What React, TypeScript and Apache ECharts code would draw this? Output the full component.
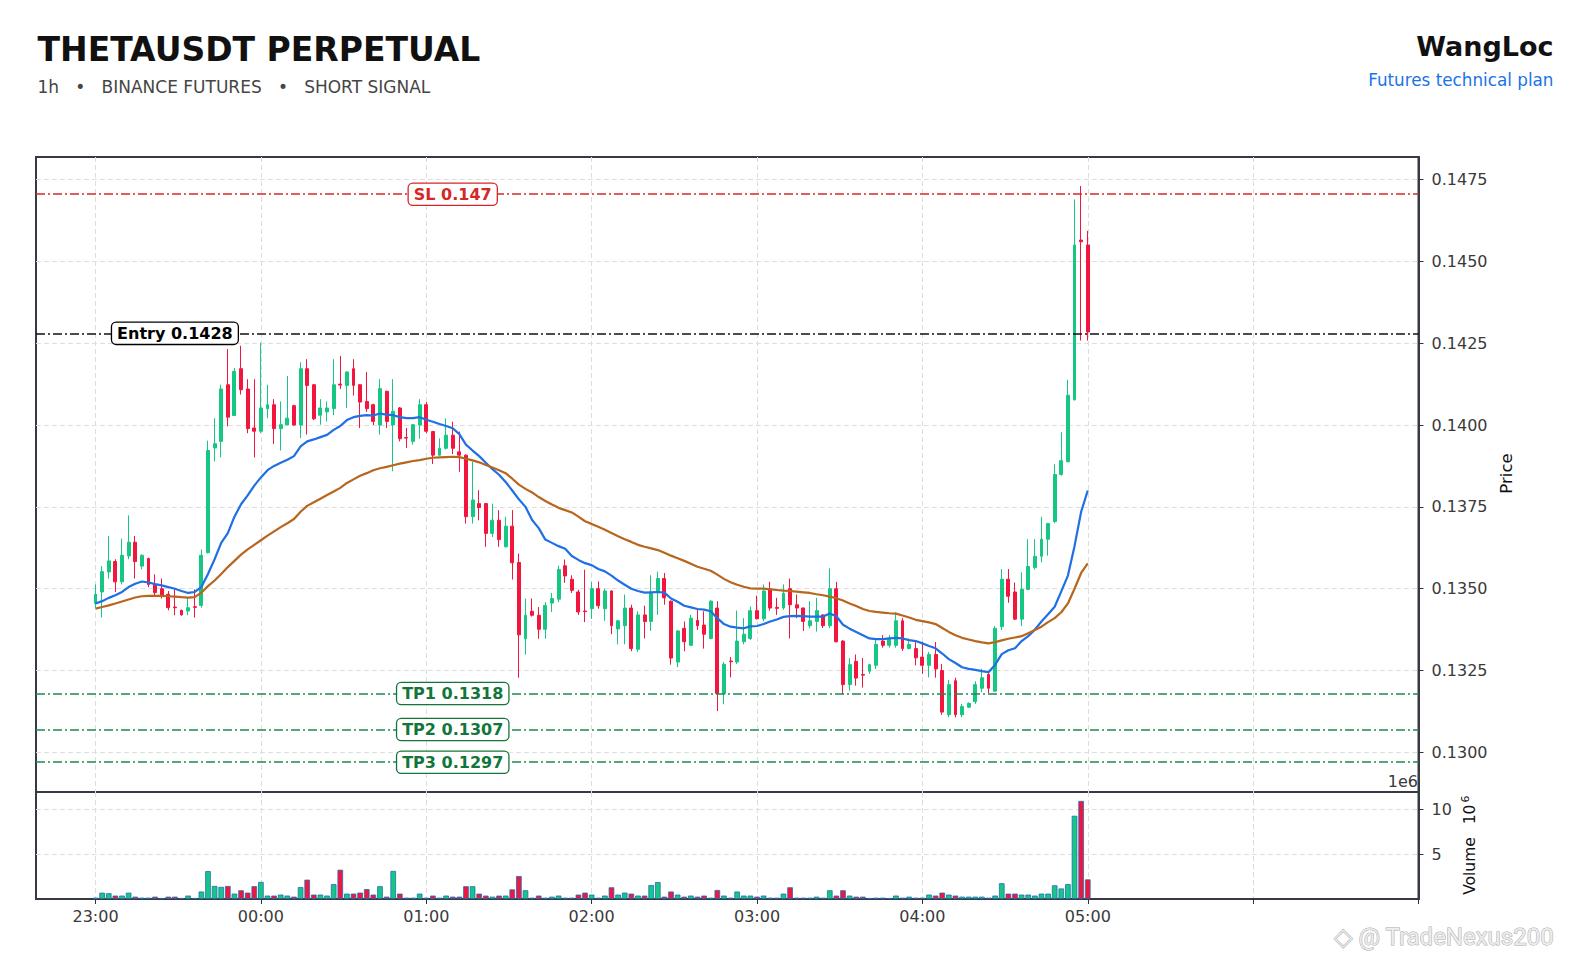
import React, { useEffect, useRef } from 'react';
import * as echarts from 'echarts';

// ---------- DATA ----------
const timeLabels = ['23:00', '00:00', '01:00', '02:00', '03:00', '04:00', '05:00'];
const CANDLES_PER_HOUR = 25;

const opens = [
  0.13455, 0.13490, 0.13551, 0.13583, 0.13521, 0.13600, 0.13642, 0.13569, 0.13592, 0.13513,
  0.13500, 0.13483, 0.13444, 0.13434, 0.13432, 0.13445, 0.13449, 0.13610, 0.13930, 0.13950,
  0.14123, 0.14029, 0.14172, 0.14110, 0.13991, 0.13981, 0.14050, 0.14062, 0.13989, 0.14001,
  0.14059, 0.14000, 0.14172, 0.14123, 0.14030, 0.14040, 0.14050, 0.14125, 0.14121, 0.14172,
  0.14123, 0.14072, 0.14062, 0.14000, 0.14103, 0.14000, 0.14052, 0.13962, 0.13950, 0.14000,
  0.14062, 0.13980, 0.13908, 0.13929, 0.13969, 0.13918, 0.13908, 0.13720, 0.13760, 0.13760,
  0.13669, 0.13709, 0.13628, 0.13691, 0.13580, 0.13347, 0.13431, 0.13419, 0.13376, 0.13456,
  0.13468, 0.13570, 0.13529, 0.13490, 0.13432, 0.13439, 0.13500, 0.13439, 0.13493, 0.13377,
  0.13387, 0.13441, 0.13315, 0.13420, 0.13400, 0.13488, 0.13531, 0.13462, 0.13276, 0.13379,
  0.13327, 0.13403, 0.13389, 0.13348, 0.13441, 0.13180, 0.13279, 0.13276, 0.13338, 0.13348,
  0.13433, 0.13408, 0.13500, 0.13443, 0.13441, 0.13500, 0.13451, 0.13441, 0.13387, 0.13400,
  0.13420, 0.13387, 0.13500, 0.13340, 0.13207, 0.13278, 0.13238, 0.13248, 0.13266, 0.13340,
  0.13327, 0.13327, 0.13402, 0.13317, 0.13317, 0.13291, 0.13266, 0.13299, 0.13250, 0.13115,
  0.13219, 0.13115, 0.13138, 0.13155, 0.13196, 0.13238, 0.13187, 0.13384, 0.13529, 0.13490,
  0.13407, 0.13498, 0.13565, 0.13599, 0.13651, 0.13705, 0.13849, 0.13888, 0.14077, 0.14565,
  0.14550,
];

const closes = [
  0.13483, 0.13552, 0.13585, 0.13521, 0.13602, 0.13642, 0.13583, 0.13602, 0.13513, 0.13488,
  0.13478, 0.13442, 0.13442, 0.13420, 0.13442, 0.13443, 0.13602, 0.13922, 0.13943, 0.14110,
  0.14024, 0.14164, 0.14108, 0.13989, 0.13981, 0.14052, 0.14062, 0.13989, 0.14001, 0.14021,
  0.14000, 0.14172, 0.14121, 0.14019, 0.14052, 0.14052, 0.14123, 0.14122, 0.14162, 0.14121,
  0.14070, 0.14050, 0.14011, 0.14111, 0.14011, 0.14042, 0.13958, 0.13960, 0.14001, 0.14062,
  0.13981, 0.13908, 0.13929, 0.13969, 0.13929, 0.13908, 0.13720, 0.13771, 0.13748, 0.13669,
  0.13709, 0.13650, 0.13691, 0.13579, 0.13359, 0.13419, 0.13419, 0.13376, 0.13449, 0.13470,
  0.13559, 0.13539, 0.13495, 0.13429, 0.13430, 0.13500, 0.13448, 0.13493, 0.13387, 0.13402,
  0.13441, 0.13317, 0.13420, 0.13400, 0.13488, 0.13531, 0.13472, 0.13288, 0.13371, 0.13338,
  0.13410, 0.13387, 0.13361, 0.13462, 0.13180, 0.13269, 0.13277, 0.13340, 0.13361, 0.13433,
  0.13408, 0.13493, 0.13441, 0.13440, 0.13486, 0.13451, 0.13441, 0.13400, 0.13402, 0.13433,
  0.13387, 0.13500, 0.13338, 0.13207, 0.13268, 0.13227, 0.13236, 0.13268, 0.13330, 0.13327,
  0.13346, 0.13402, 0.13317, 0.13330, 0.13289, 0.13266, 0.13299, 0.13255, 0.13123, 0.13207,
  0.13115, 0.13140, 0.13150, 0.13207, 0.13228, 0.13196, 0.13379, 0.13529, 0.13477, 0.13407,
  0.13498, 0.13568, 0.13599, 0.13651, 0.13699, 0.13849, 0.13891, 0.14091, 0.14550, 0.14560,
  0.14284,
];

const lows = [
  0.13442, 0.13412, 0.13531, 0.13490, 0.13513, 0.13590, 0.13531, 0.13559, 0.13505, 0.13478,
  0.13470, 0.13434, 0.13419, 0.13418, 0.13419, 0.13412, 0.13442, 0.13608, 0.13889, 0.13901,
  0.13996, 0.14029, 0.14093, 0.13975, 0.13901, 0.13975, 0.14021, 0.13942, 0.13922, 0.13999,
  0.13998, 0.13960, 0.13971, 0.14015, 0.14001, 0.14011, 0.14030, 0.14110, 0.14052, 0.14090,
  0.13991, 0.14040, 0.14000, 0.13971, 0.13991, 0.13859, 0.13950, 0.13930, 0.13940, 0.13958,
  0.13975, 0.13881, 0.13906, 0.13925, 0.13911, 0.13857, 0.13699, 0.13699, 0.13709, 0.13628,
  0.13658, 0.13628, 0.13626, 0.13528, 0.13228, 0.13299, 0.13415, 0.13347, 0.13347, 0.13429,
  0.13459, 0.13518, 0.13487, 0.13420, 0.13398, 0.13408, 0.13439, 0.13402, 0.13361, 0.13330,
  0.13330, 0.13309, 0.13307, 0.13348, 0.13371, 0.13420, 0.13451, 0.13268, 0.13260, 0.13309,
  0.13325, 0.13374, 0.13317, 0.13345, 0.13126, 0.13147, 0.13229, 0.13270, 0.13330, 0.13343,
  0.13406, 0.13400, 0.13433, 0.13420, 0.13436, 0.13348, 0.13410, 0.13371, 0.13379, 0.13369,
  0.13380, 0.13379, 0.13336, 0.13178, 0.13188, 0.13204, 0.13198, 0.13240, 0.13255, 0.13320,
  0.13320, 0.13320, 0.13310, 0.13315, 0.13266, 0.13240, 0.13229, 0.13228, 0.13115, 0.13107,
  0.13107, 0.13107, 0.13137, 0.13148, 0.13184, 0.13181, 0.13186, 0.13374, 0.13457, 0.13405,
  0.13386, 0.13496, 0.13558, 0.13581, 0.13601, 0.13700, 0.13845, 0.13886, 0.14075, 0.14258,
  0.14258,
];

const highs = [
  0.13513, 0.13569, 0.13661, 0.13590, 0.13653, 0.13724, 0.13661, 0.13605, 0.13595, 0.13544,
  0.13531, 0.13493, 0.13498, 0.13436, 0.13473, 0.13498, 0.13620, 0.13952, 0.14021, 0.14123,
  0.14232, 0.14174, 0.14242, 0.14140, 0.14140, 0.14252, 0.14123, 0.14079, 0.14072, 0.14150,
  0.14062, 0.14192, 0.14201, 0.14125, 0.14079, 0.14072, 0.14201, 0.14211, 0.14164, 0.14201,
  0.14125, 0.14162, 0.14065, 0.14140, 0.14105, 0.14140, 0.14055, 0.13991, 0.14003, 0.14079,
  0.14070, 0.13982, 0.13959, 0.14020, 0.14010, 0.13980, 0.13910, 0.13888, 0.13801, 0.13762,
  0.13760, 0.13740, 0.13720, 0.13740, 0.13607, 0.13470, 0.13470, 0.13444, 0.13459, 0.13487,
  0.13570, 0.13589, 0.13541, 0.13497, 0.13558, 0.13521, 0.13522, 0.13500, 0.13495, 0.13404,
  0.13482, 0.13451, 0.13431, 0.13448, 0.13541, 0.13552, 0.13548, 0.13464, 0.13373, 0.13400,
  0.13420, 0.13436, 0.13431, 0.13465, 0.13462, 0.13276, 0.13291, 0.13433, 0.13410, 0.13446,
  0.13479, 0.13513, 0.13521, 0.13472, 0.13513, 0.13531, 0.13482, 0.13443, 0.13462, 0.13472,
  0.13422, 0.13562, 0.13521, 0.13343, 0.13288, 0.13299, 0.13288, 0.13270, 0.13343, 0.13358,
  0.13358, 0.13428, 0.13410, 0.13348, 0.13338, 0.13338, 0.13307, 0.13337, 0.13270, 0.13221,
  0.13228, 0.13148, 0.13153, 0.13217, 0.13255, 0.13248, 0.13386, 0.13560, 0.13560, 0.13519,
  0.13550, 0.13651, 0.13651, 0.13720, 0.13701, 0.13880, 0.13978, 0.14138, 0.14689, 0.14730,
  0.14593,
];

// volume in millions (axis offset 1e6)
const volumeM = [
  0.15, 0.70, 0.64, 0.38, 0.38, 0.70, 0.26, 0.15, 0.15, 0.26,
  0.11, 0.26, 0.26, 0.11, 0.38, 0.11, 0.83, 3.10, 1.45, 1.35,
  1.45, 0.60, 0.97, 0.71, 1.42, 1.90, 0.38, 0.38, 0.49, 0.38,
  0.26, 1.32, 2.15, 0.49, 0.49, 0.38, 1.65, 3.25, 0.60, 0.60,
  0.71, 1.10, 0.49, 1.42, 0.26, 3.12, 0.60, 0.15, 0.15, 0.60,
  0.15, 0.38, 0.15, 0.38, 0.26, 0.26, 1.42, 1.42, 0.60, 0.38,
  0.26, 0.38, 0.38, 1.07, 2.55, 0.97, 0.15, 0.38, 0.15, 0.26,
  0.38, 0.15, 0.15, 0.49, 0.71, 0.49, 0.15, 0.38, 1.30, 0.49,
  0.71, 0.60, 0.38, 0.38, 1.55, 1.88, 0.26, 0.83, 0.49, 0.26,
  0.38, 0.26, 0.38, 0.15, 1.00, 0.38, 0.15, 0.83, 0.38, 0.38,
  0.26, 0.38, 0.15, 0.15, 0.60, 1.30, 0.15, 0.15, 0.15, 0.26,
  0.15, 0.97, 0.38, 0.97, 0.38, 0.26, 0.26, 0.11, 0.15, 0.15,
  0.11, 0.38, 0.15, 0.26, 0.15, 0.15, 0.49, 0.38, 0.71, 0.49,
  0.38, 0.26, 0.26, 0.26, 0.26, 0.15, 0.38, 1.75, 0.60, 0.60,
  0.49, 0.49, 0.38, 0.60, 0.60, 1.52, 1.17, 1.65, 9.25, 10.90,
  2.18,
];

// fast moving average (blue)
const maFast = [
  0.13455, 0.13462, 0.13472, 0.13480, 0.13490, 0.13505, 0.13515, 0.13522, 0.13519, 0.13514,
  0.13510, 0.13505, 0.13500, 0.13493, 0.13487, 0.13490, 0.13505, 0.13545, 0.13590, 0.13640,
  0.13670, 0.13720, 0.13758, 0.13785, 0.13815, 0.13840, 0.13862, 0.13875, 0.13885, 0.13894,
  0.13905, 0.13935, 0.13950, 0.13956, 0.13963, 0.13970, 0.13985, 0.13997, 0.14015, 0.14024,
  0.14028, 0.14030, 0.14029, 0.14035, 0.14032, 0.14030, 0.14024, 0.14021, 0.14021, 0.14024,
  0.14016, 0.14010, 0.14003, 0.13997, 0.13990, 0.13972, 0.13940, 0.13922, 0.13905, 0.13885,
  0.13865, 0.13848, 0.13826, 0.13800, 0.13773, 0.13750, 0.13710, 0.13685, 0.13650, 0.13640,
  0.13630, 0.13622, 0.13600, 0.13588, 0.13578, 0.13572, 0.13560, 0.13553, 0.13540, 0.13525,
  0.13512, 0.13500, 0.13493, 0.13488, 0.13489, 0.13490, 0.13488, 0.13470, 0.13460, 0.13448,
  0.13443, 0.13438, 0.13436, 0.13431, 0.13410, 0.13392, 0.13384, 0.13381, 0.13379, 0.13385,
  0.13386, 0.13392, 0.13400, 0.13406, 0.13414, 0.13416, 0.13417, 0.13416, 0.13415, 0.13415,
  0.13415, 0.13424, 0.13416, 0.13390, 0.13378, 0.13368, 0.13358, 0.13348, 0.13346, 0.13346,
  0.13348, 0.13350, 0.13348, 0.13343, 0.13340, 0.13333, 0.13325, 0.13318, 0.13302, 0.13285,
  0.13273, 0.13260, 0.13255, 0.13252, 0.13248, 0.13245, 0.13268, 0.13300, 0.13312, 0.13318,
  0.13340, 0.13355, 0.13375, 0.13400, 0.13422, 0.13445, 0.13492, 0.13540, 0.13630, 0.13735,
  0.13800,
];

// slow moving average (brown)
const maSlow = [
  0.13439, 0.13444, 0.13449, 0.13455, 0.13461, 0.13467, 0.13473, 0.13477, 0.13478, 0.13478,
  0.13478, 0.13477, 0.13476, 0.13474, 0.13473, 0.13474, 0.13488, 0.13508, 0.13525, 0.13545,
  0.13566, 0.13585, 0.13604, 0.13620, 0.13634, 0.13648, 0.13662, 0.13675, 0.13688, 0.13700,
  0.13713, 0.13735, 0.13753, 0.13764, 0.13775, 0.13786, 0.13797, 0.13808, 0.13823, 0.13834,
  0.13845, 0.13853, 0.13862, 0.13868, 0.13872, 0.13877, 0.13882, 0.13886, 0.13890, 0.13893,
  0.13897, 0.13900, 0.13901, 0.13902, 0.13903, 0.13902, 0.13897, 0.13892, 0.13886, 0.13878,
  0.13870, 0.13862, 0.13853, 0.13836, 0.13818, 0.13805, 0.13794, 0.13780, 0.13768, 0.13757,
  0.13747, 0.13740, 0.13733, 0.13720, 0.13706, 0.13698, 0.13689, 0.13680, 0.13670, 0.13660,
  0.13651, 0.13643, 0.13634, 0.13628, 0.13623, 0.13618, 0.13610, 0.13601, 0.13593, 0.13585,
  0.13576, 0.13567, 0.13561, 0.13555, 0.13543, 0.13530, 0.13520, 0.13512, 0.13506, 0.13501,
  0.13500, 0.13500, 0.13498, 0.13496, 0.13494, 0.13493, 0.13491, 0.13489, 0.13487, 0.13483,
  0.13480, 0.13476, 0.13471, 0.13464, 0.13455, 0.13447, 0.13438, 0.13432, 0.13429, 0.13427,
  0.13425, 0.13424, 0.13418, 0.13412, 0.13405, 0.13401, 0.13397, 0.13392, 0.13380, 0.13368,
  0.13358, 0.13350, 0.13345, 0.13340, 0.13336, 0.13333, 0.13337, 0.13342, 0.13347, 0.13351,
  0.13355, 0.13364, 0.13374, 0.13384, 0.13398, 0.13410, 0.13428, 0.13455, 0.13500, 0.13548,
  0.13577,
];

const priceTicks = [0.13, 0.1325, 0.135, 0.1375, 0.14, 0.1425, 0.145, 0.1475];
const volumeTicks = [5, 10];

const levelNames = ['SL', 'Entry', 'TP1', 'TP2', 'TP3'];
const levelValues = [0.14705, 0.1428, 0.1318, 0.1307, 0.1297];
const levelTexts = ['SL 0.147', 'Entry 0.1428', 'TP1 0.1318', 'TP2 0.1307', 'TP3 0.1297'];

// ---------- LAYOUT / STYLE ----------
const FONT = '"DejaVu Sans", "Liberation Sans", sans-serif';
const UP = '#16C784';
const DOWN = '#F2163E';
const FRAME = '#353a45';
const PAD_BEFORE = 9;
const PAD_AFTER = 50;
const LEVEL_LABEL_AT = [54, 12, 54, 54, 54];
const LEVEL_LINE_COLORS = ['#d62728', '#111111', '#1f8a4c', '#1f8a4c', '#1f8a4c'];
const LEVEL_TEXT_COLORS = ['#d62728', '#000000', '#12763a', '#12763a', '#12763a'];

function buildOption() {
  const N = closes.length;
  const total = PAD_BEFORE + N + PAD_AFTER;
  const cats = Array.from({ length: total }, (_, i) => 'c' + i);
  const toIdx = (i: number) => i - PAD_BEFORE;
  const isHour = (i: number) => {
    const c = toIdx(i);
    return c >= 0 && c % CANDLES_PER_HOUR === 0;
  };

  const candleData = cats.map((_, i) => {
    const k = toIdx(i);
    if (k < 0 || k >= N) return '-';
    return [opens[k], closes[k], lows[k], highs[k]];
  });
  const pad = (arr: number[]) =>
    cats.map((_, i) => {
      const k = toIdx(i);
      return k < 0 || k >= N ? '-' : arr[k];
    });
  const volData = cats.map((_, i) => {
    const k = toIdx(i);
    if (k < 0 || k >= N) return '-';
    return {
      value: volumeM[k],
      itemStyle: { color: closes[k] >= opens[k] ? UP : DOWN },
    };
  });

  const dashDot = [9, 3, 2, 3];
  const gridDash = [5, 3];

  const left = 36;
  const width = 1382.5;

  const labelStyle = { color: '#3a3a3a', fontSize: 16, fontFamily: FONT };

  return {
    animation: false,
    backgroundColor: '#ffffff',
    textStyle: { fontFamily: FONT },
    grid: [
      {
        left, top: 157, width, height: 635,
        show: true, borderColor: FRAME, borderWidth: 2, backgroundColor: 'transparent',
        outerBoundsMode: 'none',
      },
      {
        left, top: 792, width, height: 107,
        show: true, borderColor: FRAME, borderWidth: 2, backgroundColor: 'transparent',
        outerBoundsMode: 'none',
      },
    ],
    xAxis: [
      {
        type: 'category', gridIndex: 0, data: cats, boundaryGap: false,
        axisLine: { show: false }, axisTick: { show: false }, axisLabel: { show: false },
        splitLine: {
          show: true,
          interval: (i: number) => isHour(i) && toIdx(i) < 200,
          lineStyle: { color: '#dedede', type: gridDash, width: 1 },
        },
      },
      {
        type: 'category', gridIndex: 1, data: cats, boundaryGap: false,
        axisLine: { show: true, lineStyle: { color: FRAME, width: 2 } },
        axisTick: {
          show: true, interval: (i: number) => isHour(i), length: 5,
          lineStyle: { color: '#333', width: 1 },
        },
        axisLabel: {
          ...labelStyle,
          margin: 9,
          interval: (i: number) => isHour(i),
          formatter: (_v: string, i: number) => {
            const c = toIdx(i);
            const h = c / CANDLES_PER_HOUR;
            return timeLabels[h] !== undefined ? timeLabels[h] : '';
          },
        },
        splitLine: {
          show: true,
          interval: (i: number) => isHour(i) && toIdx(i) < 200,
          lineStyle: { color: '#dedede', type: gridDash, width: 1 },
        },
      },
    ],
    yAxis: [
      {
        type: 'value', gridIndex: 0, position: 'right', scale: true,
        min: 0.12879, max: 0.148187,
        axisLine: { show: true, lineStyle: { color: FRAME, width: 2 } },
        axisTick: { show: true, length: 5, customValues: priceTicks, lineStyle: { color: '#333' } },
        axisLabel: {
          ...labelStyle, margin: 13, customValues: priceTicks,
          formatter: (v: number) => v.toFixed(4),
        },
        splitLine: { show: true, lineStyle: { color: '#dedede', type: gridDash, width: 1 } },
      },
      {
        type: 'value', gridIndex: 1, position: 'right',
        min: 0, max: 11.89,
        axisLine: { show: true, lineStyle: { color: FRAME, width: 2 } },
        axisTick: { show: true, length: 5, customValues: volumeTicks, lineStyle: { color: '#333' } },
        axisLabel: {
          ...labelStyle, margin: 13, customValues: volumeTicks,
          formatter: (v: number) => String(v),
        },
        splitLine: { show: true, lineStyle: { color: '#dedede', type: gridDash, width: 1 } },
      },
    ],
    series: [
      {
        name: 'Candles',
        type: 'candlestick',
        xAxisIndex: 0, yAxisIndex: 0,
        data: candleData,
        barWidth: 3.4,
        itemStyle: {
          color: UP, color0: DOWN, borderColor: UP, borderColor0: DOWN, borderWidth: 1,
        },
        z: 2,
        markLine: {
          silent: true,
          symbol: ['none', 'none'],
          animation: false,
          precision: 6,
          z: 5,
          data: levelValues.map((v, j) => ({
            name: levelNames[j],
            yAxis: v,
            label: { show: false },
            lineStyle: { color: LEVEL_LINE_COLORS[j], type: dashDot, width: 1.5, opacity: 1 },
          })),
        },
      },
      {
        name: 'MA fast',
        type: 'line',
        xAxisIndex: 0, yAxisIndex: 0,
        data: pad(maFast),
        showSymbol: false,
        symbol: 'none',
        lineStyle: { color: '#1f6fe5', width: 2.2 },
        z: 3,
      },
      {
        name: 'MA slow',
        type: 'line',
        xAxisIndex: 0, yAxisIndex: 0,
        data: pad(maSlow),
        showSymbol: false,
        symbol: 'none',
        lineStyle: { color: '#b8651d', width: 2.2 },
        z: 3,
      },
      {
        name: 'Level labels',
        type: 'scatter',
        xAxisIndex: 0, yAxisIndex: 0,
        symbol: 'rect',
        symbolSize: 1,
        itemStyle: { color: 'rgba(0,0,0,0)' },
        z: 10,
        silent: true,
        label: {
          show: true,
          position: 'inside',
          fontSize: 16,
          fontWeight: 'bold',
          fontFamily: FONT,
          backgroundColor: '#ffffff',
          borderWidth: 1.3,
          borderRadius: 4,
          padding: [3, 5, 2, 5],
          textBorderWidth: 0,
          textBorderColor: 'transparent',
          opacity: 1,
        },
        data: levelValues.map((v, j) => ({
          value: [LEVEL_LABEL_AT[j] + PAD_BEFORE, v],
          label: {
            formatter: levelTexts[j],
            color: LEVEL_TEXT_COLORS[j],
            borderColor: LEVEL_TEXT_COLORS[j],
          },
        })),
      },
      {
        name: 'Volume',
        type: 'bar',
        xAxisIndex: 1, yAxisIndex: 1,
        data: volData,
        barWidth: 5.6,
        itemStyle: { borderColor: '#1f6fb5', borderWidth: 0.8 },
      },
    ],
    graphic: [
      {
        type: 'text', x: 37.5, y: 49.5,
        style: {
          text: 'THETAUSDT PERPETUAL', fill: '#111111', fontSize: 33, fontWeight: 'bold',
          fontFamily: FONT, textAlign: 'left', textVerticalAlign: 'middle',
        },
      },
      {
        type: 'text', x: 37.5, y: 86.5,
        style: {
          text: '1h\u00A0\u00A0\u00A0•\u00A0\u00A0\u00A0BINANCE FUTURES\u00A0\u00A0\u00A0•\u00A0\u00A0\u00A0SHORT SIGNAL',
          fill: '#454545', fontSize: 17, fontFamily: FONT,
          textAlign: 'left', textVerticalAlign: 'middle',
        },
      },
      {
        type: 'text', x: 1553.5, y: 46.5,
        style: {
          text: 'WangLoc', fill: '#111111', fontSize: 27, fontWeight: 'bold', fontFamily: FONT,
          textAlign: 'right', textVerticalAlign: 'middle',
        },
      },
      {
        type: 'text', x: 1553.5, y: 80,
        style: {
          text: 'Futures technical plan', fill: '#1a73e8', fontSize: 16.8, fontFamily: FONT,
          textAlign: 'right', textVerticalAlign: 'middle',
        },
      },
      {
        type: 'text', x: 1506, y: 473.5, rotation: Math.PI / 2,
        style: {
          text: 'Price', fill: '#111111', fontSize: 16.5, fontFamily: FONT,
          textAlign: 'center', textVerticalAlign: 'middle',
        },
      },
      {
        type: 'text', x: 1470, y: 866, rotation: Math.PI / 2,
        style: {
          text: 'Volume', fill: '#111111', fontSize: 15.5, fontFamily: FONT,
          textAlign: 'center', textVerticalAlign: 'middle',
        },
      },
      {
        type: 'text', x: 1470, y: 814.5, rotation: Math.PI / 2,
        style: {
          text: '10', fill: '#111111', fontSize: 15.5, fontFamily: FONT,
          textAlign: 'center', textVerticalAlign: 'middle',
        },
      },
      {
        type: 'text', x: 1465, y: 799, rotation: Math.PI / 2,
        style: {
          text: '6', fill: '#111111', fontSize: 11, fontFamily: FONT,
          textAlign: 'center', textVerticalAlign: 'middle',
        },
      },
      {
        type: 'text', x: 1418, y: 781.5,
        style: {
          text: '1e6', fill: '#3a3a3a', fontSize: 16, fontFamily: FONT,
          textAlign: 'right', textVerticalAlign: 'middle',
        },
      },
      {
        type: 'text', x: 1334, y: 937,
        style: {
          text: '◇ @ TradeNexus200', fill: '#ececec', stroke: '#a8a8a8', lineWidth: 1,
          fontSize: 24, fontFamily: 'Roboto, "DejaVu Sans", sans-serif',
          textAlign: 'left', textVerticalAlign: 'middle',
        },
      },
    ],
  };
}

export default function App() {
  const ref = useRef<HTMLDivElement>(null);
  useEffect(() => {
    document.body.style.margin = '0';
    if (!ref.current) return;
    const chart = echarts.init(ref.current, undefined, { renderer: 'svg', width: 1590, height: 962 });
    chart.setOption(buildOption() as any);
    return () => {
      chart.dispose();
    };
  }, []);
  return <div ref={ref} style={{ width: 1590, height: 962 }} />;
}
